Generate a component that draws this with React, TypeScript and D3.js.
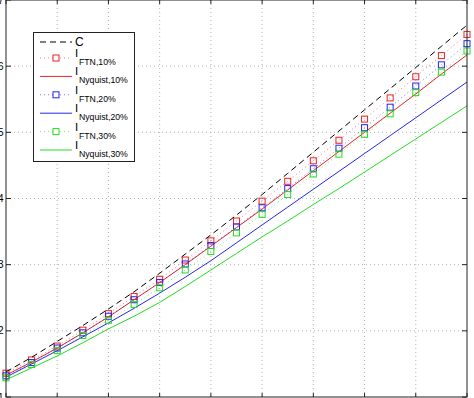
import * as d3 from 'd3';
import React from 'react';

// SNR axis (no label visible in the crop)
const snr = [0, 1, 2, 3, 4, 5, 6, 7, 8, 9, 10, 11, 12, 13, 14, 15, 16, 17, 18];

const capacity = [1.38, 1.6, 1.84, 2.08, 2.33, 2.59, 2.87, 3.16, 3.45, 3.75, 4.06, 4.38, 4.7, 5.02, 5.34, 5.66, 5.98, 6.3, 6.62];

const ftn10 = [1.36, 1.56, 1.77, 2.01, 2.26, 2.52, 2.78, 3.07, 3.36, 3.66, 3.96, 4.26, 4.57, 4.88, 5.2, 5.52, 5.84, 6.16, 6.48];
const ftn20 = [1.32, 1.52, 1.74, 1.97, 2.22, 2.47, 2.73, 3.01, 3.29, 3.57, 3.86, 4.15, 4.45, 4.76, 5.07, 5.38, 5.7, 6.02, 6.34];
const ftn30 = [1.29, 1.49, 1.7, 1.93, 2.16, 2.4, 2.65, 2.92, 3.2, 3.48, 3.76, 4.06, 4.37, 4.67, 4.97, 5.28, 5.6, 5.91, 6.23];

const nyq10 = [1.33, 1.53, 1.74, 1.97, 2.21, 2.47, 2.73, 3.0, 3.28, 3.56, 3.84, 4.13, 4.42, 4.71, 5.0, 5.29, 5.58, 5.88, 6.17];
const nyq20 = [1.3, 1.5, 1.7, 1.91, 2.12, 2.34, 2.57, 2.81, 3.06, 3.33, 3.6, 3.87, 4.14, 4.41, 4.68, 4.95, 5.22, 5.49, 5.76];
const nyq30 = [1.26, 1.44, 1.62, 1.82, 2.03, 2.22, 2.43, 2.67, 2.92, 3.17, 3.42, 3.66, 3.91, 4.15, 4.4, 4.65, 4.9, 5.15, 5.4];

const xTicks = [0, 2, 4, 6, 8, 10, 12, 14, 16, 18];
const yTicks = [1, 2, 3, 4, 5, 6, 7];

const RED = '#ee2222';
const BLUE = '#2626ee';
const GREEN = '#22dd22';

const legendItems = [
  { main: 'C', sub: '', color: '#000', kind: 'dash' },
  { main: 'I', sub: 'FTN,10%', color: RED, kind: 'marker' },
  { main: 'I', sub: 'Nyquist,10%', color: RED, kind: 'line' },
  { main: 'I', sub: 'FTN,20%', color: BLUE, kind: 'marker' },
  { main: 'I', sub: 'Nyquist,20%', color: BLUE, kind: 'line' },
  { main: 'I', sub: 'FTN,30%', color: GREEN, kind: 'marker' },
  { main: 'I', sub: 'Nyquist,30%', color: GREEN, kind: 'line' },
];

const W = 474;
const H = 398;
const left = 6;
const right = 467;
const top = 0;
const bottom = 397;

export default function App() {
  const x = d3.scaleLinear().domain([0, 18]).range([left, right]);
  const y = d3.scaleLinear().domain([1, 7]).range([bottom, top]);

  const line = (vals: number[]) =>
    d3
      .line<number>()
      .x((_, i) => x(snr[i]))
      .y((v) => y(v))(vals) ?? '';

  const font = 'Liberation Sans, Arial, Helvetica, sans-serif';

  const squares = (vals: number[], color: string) =>
    vals.map((v, i) => (
      <rect
        key={i}
        x={x(snr[i]) - 3}
        y={y(v) - 3}
        width={6}
        height={6}
        fill="none"
        stroke={color}
        strokeWidth={1}
      />
    ));

  const rowY = (i: number) => (i === 0 ? 42 : 58 + (i - 1) * 18.4);

  return (
    <div style={{ position: 'fixed', left: 0, top: 0 }}>
      <svg width={W} height={H} style={{ display: 'block', background: '#fff' }}>
        {/* grid */}
        <g stroke="#b4b4b4" strokeWidth={1} strokeDasharray="1,3">
          {xTicks.slice(1, -1).map((t) => (
            <line key={'gx' + t} x1={x(t)} x2={x(t)} y1={top} y2={bottom} />
          ))}
          {yTicks.slice(1, -1).map((t) => (
            <line key={'gy' + t} x1={left} x2={right} y1={y(t)} y2={y(t)} />
          ))}
        </g>

        {/* Nyquist curves */}
        <path d={line(nyq10)} fill="none" stroke={RED} strokeWidth={1} />
        <path d={line(nyq20)} fill="none" stroke={BLUE} strokeWidth={1} />
        <path d={line(nyq30)} fill="none" stroke={GREEN} strokeWidth={1} />

        {/* FTN dotted curves + markers */}
        <path d={line(ftn10)} fill="none" stroke={RED} strokeWidth={1} strokeDasharray="1,3" opacity={0.6} />
        <path d={line(ftn20)} fill="none" stroke={BLUE} strokeWidth={1} strokeDasharray="1,3" opacity={0.6} />
        <path d={line(ftn30)} fill="none" stroke={GREEN} strokeWidth={1} strokeDasharray="1,3" opacity={0.6} />
        {squares(ftn10, RED)}
        {squares(ftn20, BLUE)}
        {squares(ftn30, GREEN)}

        {/* capacity */}
        <path d={line(capacity)} fill="none" stroke="#000" strokeWidth={1} strokeDasharray="6,4" />

        {/* axes box and ticks */}
        <rect x={left} y={top} width={right - left} height={bottom - top} fill="none" stroke="#222" strokeWidth={1} />
        <g stroke="#222" strokeWidth={1}>
          {xTicks.map((t) => (
            <g key={'tx' + t}>
              <line x1={x(t)} x2={x(t)} y1={bottom} y2={bottom - 4} />
              <line x1={x(t)} x2={x(t)} y1={top} y2={top + 4} />
            </g>
          ))}
          {yTicks.map((t) => (
            <g key={'ty' + t}>
              <line x1={left} x2={left + 5} y1={y(t)} y2={y(t)} />
              <line x1={right} x2={right - 5} y1={y(t)} y2={y(t)} />
            </g>
          ))}
        </g>
        {yTicks.map((t) => (
          <text
            key={'yl' + t}
            x={3.5}
            y={y(t)}
            textAnchor="end"
            dominantBaseline="central"
            fontFamily={font}
            fontSize={10}
            fill="#000"
          >
            {t}
          </text>
        ))}

        {/* legend */}
        <rect x={33.5} y={32.5} width={101} height={129} fill="#fff" stroke="#222" strokeWidth={1} />
        {legendItems.map((it, i) => {
          const ry = rowY(i);
          return (
            <g key={'lg' + i}>
              {it.kind === 'dash' && (
                <line x1={40} x2={72} y1={ry} y2={ry} stroke={it.color} strokeDasharray="6,4" />
              )}
              {it.kind === 'line' && <line x1={40} x2={72} y1={ry} y2={ry} stroke={it.color} />}
              {it.kind === 'marker' && (
                <>
                  <line x1={40} x2={72} y1={ry} y2={ry} stroke={it.color} strokeDasharray="1,3" opacity={0.6} />
                  <rect x={53} y={ry - 3} width={6} height={6} fill="#fff" stroke={it.color} />
                </>
              )}
              {it.sub === '' ? (
                <text x={75} y={ry + 4.3} fontFamily={font} fontSize={12} fill="#000">
                  {it.main}
                </text>
              ) : (
                <>
                  <text x={75} y={ry - 1} fontFamily={font} fontSize={11.5} fill="#000">
                    {it.main}
                  </text>
                  <text x={79} y={ry + 7} fontFamily={font} fontSize={8.7} fill="#000">
                    {it.sub}
                  </text>
                </>
              )}
            </g>
          );
        })}
      </svg>
    </div>
  );
}
